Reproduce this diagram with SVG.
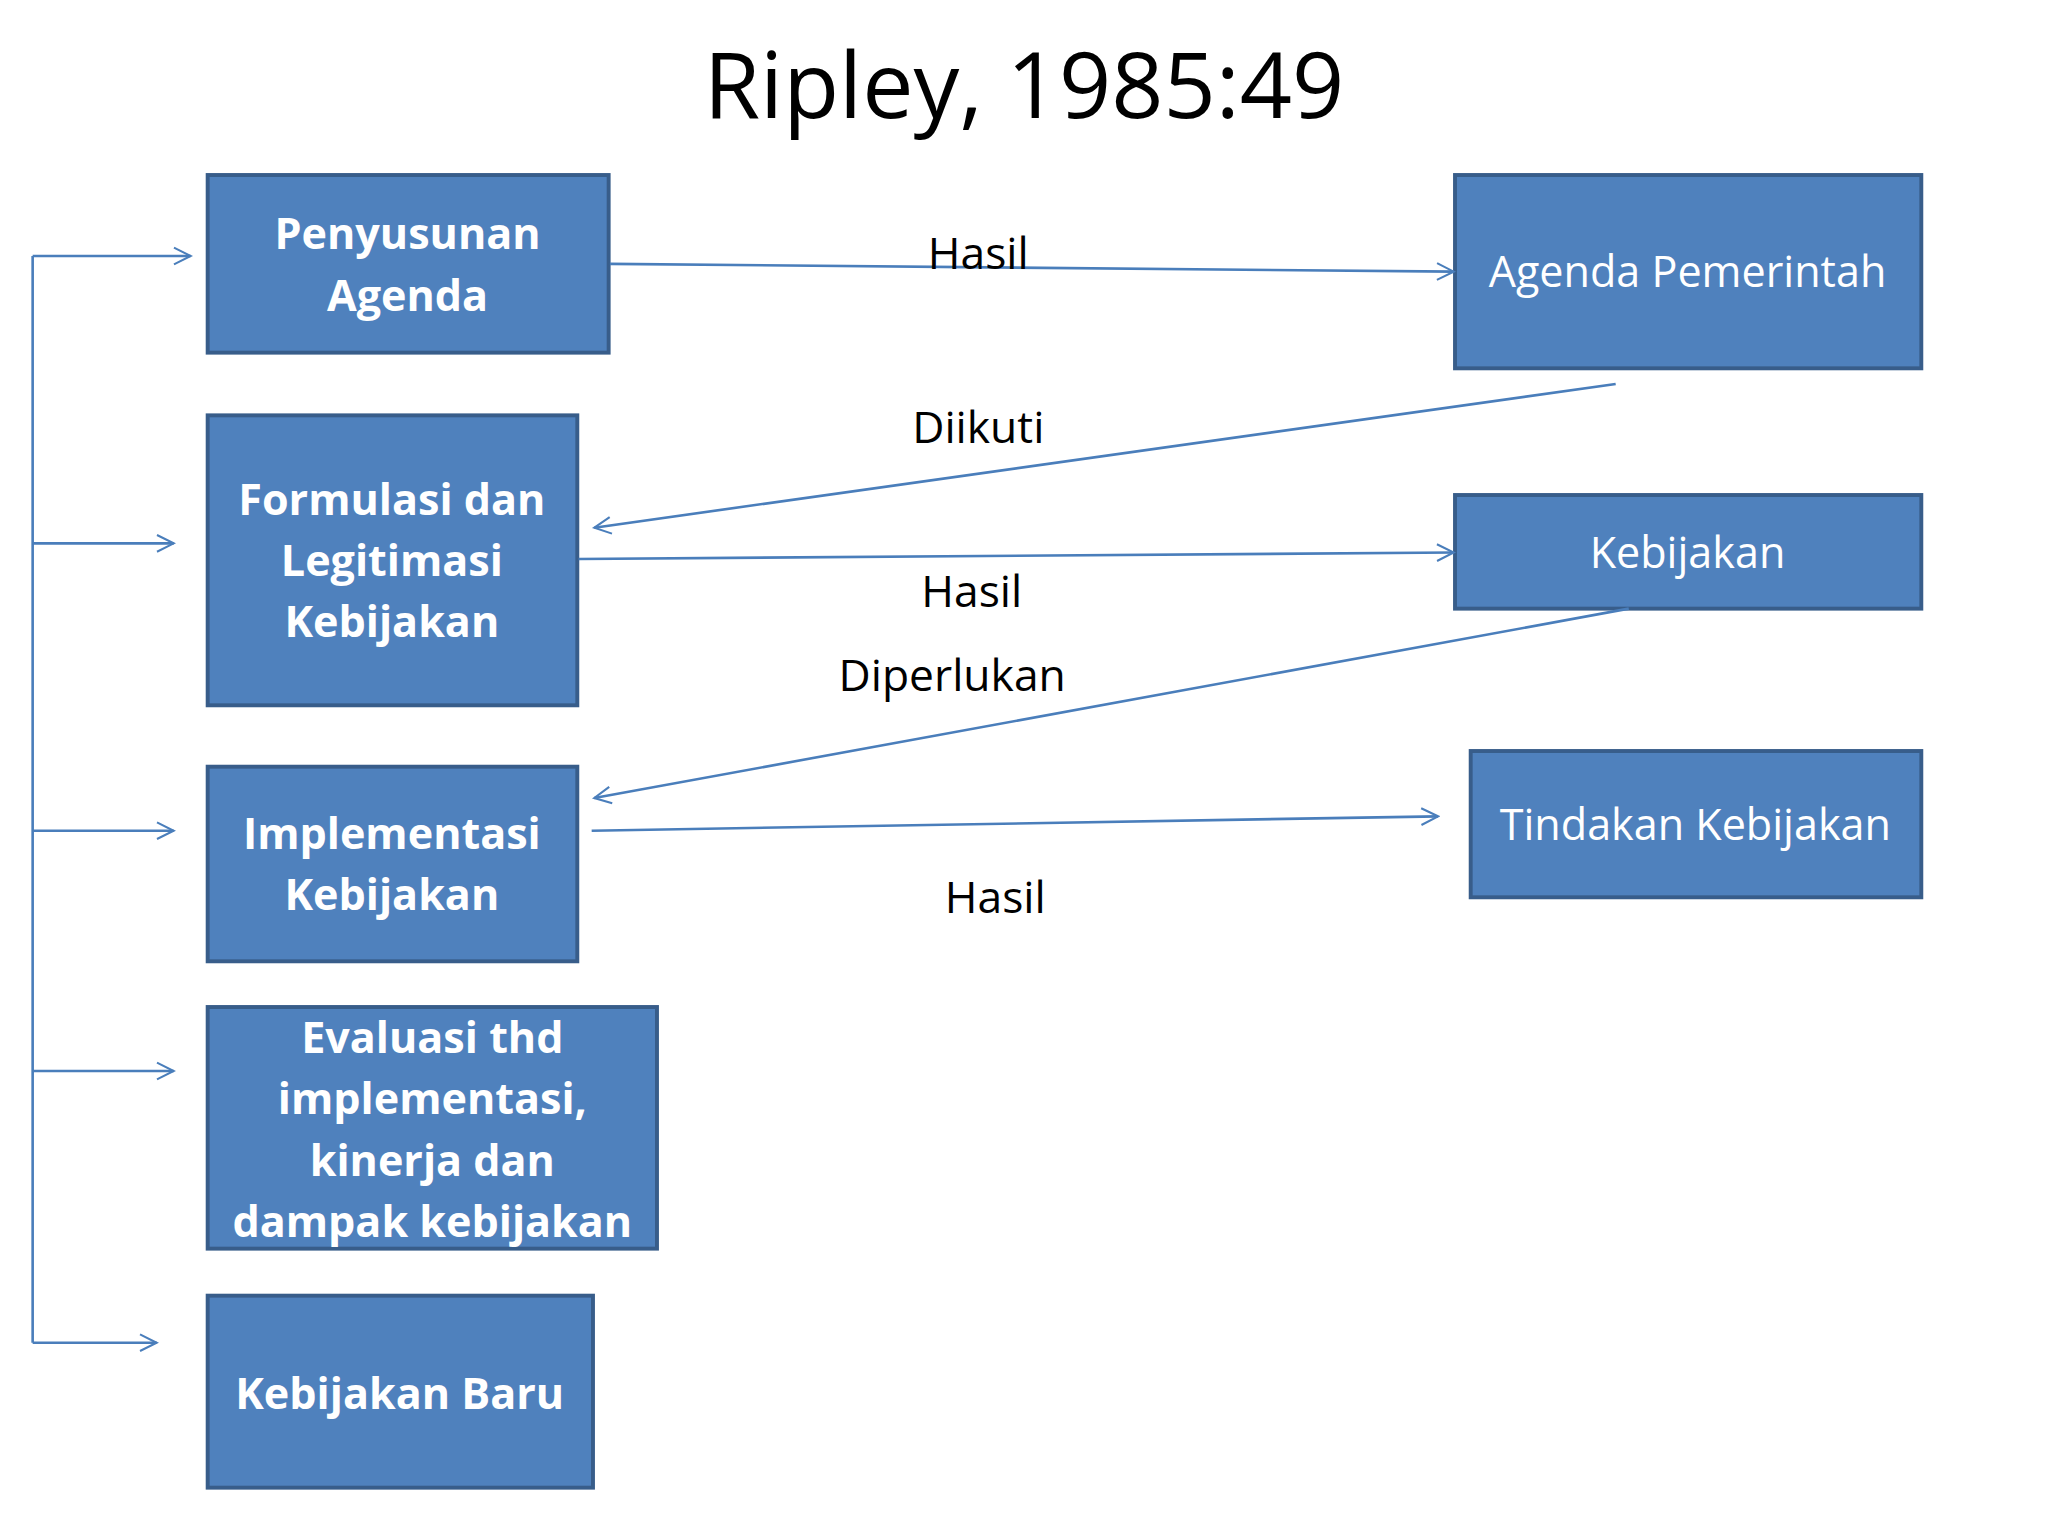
<svg xmlns="http://www.w3.org/2000/svg" width="2048" height="1536" viewBox="0 0 2048 1536">
<defs>
<style>
.box{fill:#4f81bd;stroke:#385d8a;stroke-width:3}
.tb{font-family:"Open Sans","Noto Sans",sans-serif;font-weight:bold;font-size:33px;fill:#fff;text-anchor:middle}
.tn{font-family:"Open Sans","Noto Sans",sans-serif;font-size:33px;fill:#fff;text-anchor:middle}
.lb{font-family:"Open Sans","Noto Sans",sans-serif;font-size:34px;fill:#000;text-anchor:middle}
.c{stroke:#4a7ebb;stroke-width:2;fill:none}
</style>
<marker id="a" viewBox="0 0 20 20" refX="18" refY="10" markerWidth="16" markerHeight="16" markerUnits="userSpaceOnUse" orient="auto">
<polyline points="2,2 18,10 2,18" fill="none" stroke="#4a7ebb" stroke-width="2"/>
</marker>
</defs>
<rect width="2048" height="1536" fill="#fff"/>
<g transform="scale(1.30612)">
<text x="784" y="90" font-family="Open Sans,Noto Sans,sans-serif" font-size="70" text-anchor="middle" fill="#000">Ripley, 1985:49</text>
<g id="n1"><rect class="box" x="159" y="134" width="307" height="136"/><text class="tb" x="312" y="191">Penyusunan</text><text class="tb" x="312" y="238">Agenda</text></g>
<g id="n2"><rect class="box" x="1114" y="134" width="357" height="148"/><text class="tn" x="1292" y="220">Agenda Pemerintah</text></g>
<g id="n3"><rect class="box" x="159" y="318" width="283" height="222"/><text class="tb" x="300" y="394">Formulasi dan</text><text class="tb" x="300" y="441">Legitimasi</text><text class="tb" x="300" y="488">Kebijakan</text></g>
<g id="n4"><rect class="box" x="1114" y="379" width="357" height="87"/><text class="tn" x="1292" y="435">Kebijakan</text></g>
<g id="n5"><rect class="box" x="159" y="587" width="283" height="149"/><text class="tb" x="300" y="650">Implementasi</text><text class="tb" x="300" y="697">Kebijakan</text></g>
<g id="n6"><rect class="box" x="1126" y="575" width="345" height="112"/><text class="tn" x="1298" y="643">Tindakan Kebijakan</text></g>
<g id="n7"><rect class="box" x="159" y="771" width="344" height="185"/><text class="tb" x="331" y="806">Evaluasi thd</text><text class="tb" x="331" y="853">implementasi,</text><text class="tb" x="331" y="900">kinerja dan</text><text class="tb" x="331" y="947">dampak kebijakan</text></g>
<g id="n8"><rect class="box" x="159" y="992" width="295" height="147"/><text class="tb" x="306" y="1079">Kebijakan Baru</text></g>
<g id="connectors">
<polyline class="c" points="25,196 25,1028"/>
<line class="c" x1="25" y1="196" x2="146" y2="196" marker-end="url(#a)"/>
<line class="c" x1="25" y1="416" x2="133" y2="416" marker-end="url(#a)"/>
<line class="c" x1="25" y1="636" x2="133" y2="636" marker-end="url(#a)"/>
<line class="c" x1="25" y1="820" x2="133" y2="820" marker-end="url(#a)"/>
<line class="c" x1="25" y1="1028" x2="120" y2="1028" marker-end="url(#a)"/>
<line class="c" x1="467" y1="202" x2="1113" y2="208" marker-end="url(#a)"/>
<line class="c" x1="1237" y1="294" x2="455" y2="404" marker-end="url(#a)"/>
<line class="c" x1="443" y1="428" x2="1113" y2="423" marker-end="url(#a)"/>
<line class="c" x1="1247" y1="466" x2="455" y2="611" marker-end="url(#a)"/>
<line class="c" x1="453" y1="636" x2="1101" y2="625" marker-end="url(#a)"/>
<text class="lb" x="749" y="206">Hasil</text>
<text class="lb" x="749" y="339">Diikuti</text>
<text class="lb" x="744" y="465">Hasil</text>
<text class="lb" x="729" y="529">Diperlukan</text>
<text class="lb" x="762" y="699">Hasil</text>
</g>
</g>
</svg>
